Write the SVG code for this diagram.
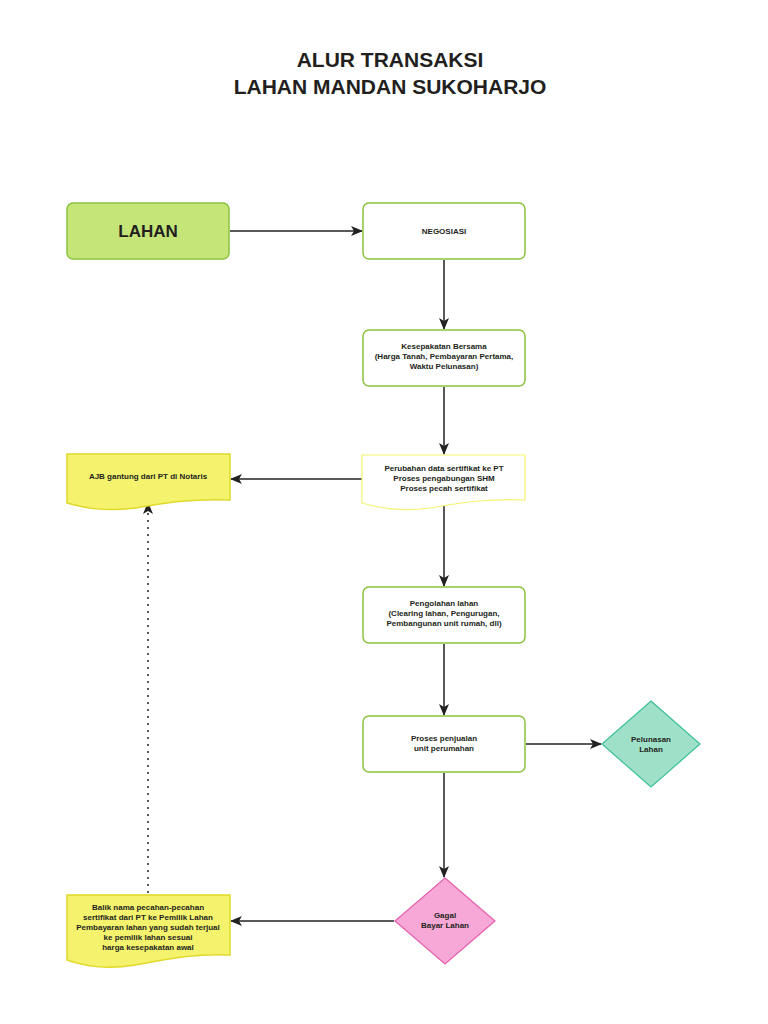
<svg xmlns="http://www.w3.org/2000/svg" width="768" height="1024" viewBox="0 0 768 1024">
<defs>
<marker id="ah" markerWidth="12" markerHeight="10" refX="11" refY="5" orient="auto" markerUnits="userSpaceOnUse"><path d="M0,0 L12,5 L0,10 L3,5 Z" fill="#222"/></marker>
</defs>
<style>
text{font-family:"Liberation Sans",Arial,sans-serif;font-weight:bold;fill:#231f20;text-anchor:middle}
.t{font-size:8px}
.box{fill:#fff;stroke:#8ac43f;stroke-width:1.5}
.doc{fill:#f5f36e;stroke:#e0d92a;stroke-width:1.5}
.line{stroke:#222;stroke-width:1.5;fill:none}
</style>
<rect width="768" height="1024" fill="#fff"/>
<text x="390" y="67" font-size="21">ALUR TRANSAKSI</text>
<text x="390" y="94" font-size="21">LAHAN MANDAN  SUKOHARJO</text>
<g id="connectors">
<path class="line" d="M230,231 H362" marker-end="url(#ah)"/>
<path class="line" d="M444,260 V329" marker-end="url(#ah)"/>
<path class="line" d="M444,387 V454" marker-end="url(#ah)"/>
<path class="line" d="M362,479 H231" marker-end="url(#ah)"/>
<path class="line" d="M444,506 V586" marker-end="url(#ah)"/>
<path class="line" d="M444,644 V715" marker-end="url(#ah)"/>
<path class="line" d="M526,744 H601" marker-end="url(#ah)"/>
<path class="line" d="M444,773 V877" marker-end="url(#ah)"/>
<path class="line" d="M394,921 H231" marker-end="url(#ah)"/>
<path class="line" d="M148,893 V503" stroke-dasharray="2,5" marker-end="url(#ah)"/>
</g>
<g id="lahan"><rect x="67" y="203" width="162" height="56" rx="6" fill="#c5e579" stroke="#8ac43f" stroke-width="1.5"/><text x="148" y="237" font-size="17" font-weight="normal">LAHAN</text></g>
<g id="negosiasi"><rect class="box" x="363" y="203" width="162" height="56" rx="6"/><text class="t" x="444" y="234">NEGOSIASI</text></g>
<g id="kesepakatan"><rect class="box" x="363" y="330" width="162" height="56" rx="6"/><text class="t" x="444" y="349">Kesepakatan Bersama</text><text class="t" x="444" y="359">(Harga Tanah, Pembayaran Pertama,</text><text class="t" x="444" y="369">Waktu Pelunasan)</text></g>
<g id="perubahan"><path d="M362,455 H525 V500 C480,498 450,505 430,508 C400,512 380,508 362,503 Z" fill="#fff" stroke="#f5f36e" stroke-width="1.2"/><text class="t" x="444" y="471">Perubahan data sertifikat ke PT</text><text class="t" x="444" y="481">Proses pengabungan SHM</text><text class="t" x="444" y="491">Proses pecah sertifikat</text></g>
<g id="ajb"><path class="doc" d="M67,454 H230 V500 C185,498 155,505 135,508 C105,512 85,508 67,503 Z"/><text class="t" x="148" y="479">AJB gantung dari PT di Notaris</text></g>
<g id="pengolahan"><rect class="box" x="363" y="587" width="162" height="56" rx="6"/><text class="t" x="444" y="606">Pengolahan lahan</text><text class="t" x="444" y="616">(Clearing lahan, Pengurugan,</text><text class="t" x="444" y="626">Pembangunan unit rumah, dll)</text></g>
<g id="penjualan"><rect class="box" x="363" y="716" width="162" height="56" rx="6"/><text class="t" x="444" y="741">Proses penjualan</text><text class="t" x="444" y="751">unit perumahan</text></g>
<g id="pelunasan"><path d="M651,701 L700,744 L651,787 L602,744 Z" fill="#9fe0c8" stroke="#3cbf9a" stroke-width="1.2"/><text class="t" x="651" y="742">Pelunasan</text><text class="t" x="651" y="752">Lahan</text></g>
<g id="gagal"><path d="M445,878 L495,921 L445,964 L395,921 Z" fill="#f7a8d6" stroke="#e65fac" stroke-width="1.2"/><text class="t" x="445" y="918">Gagal</text><text class="t" x="445" y="928">Bayar Lahan</text></g>
<g id="balik"><path class="doc" d="M67,895 H230 V955 C185,953 155,962 135,965 C105,970 85,966 67,960 Z"/><text class="t" x="148" y="910">Balik nama pecahan-pecahan</text><text class="t" x="148" y="920">sertifikat dari PT ke Pemilik Lahan</text><text class="t" x="148" y="930">Pembayaran lahan yang sudah terjual</text><text class="t" x="148" y="940">ke pemilik lahan sesuai</text><text class="t" x="148" y="950">harga kesepakatan awal</text></g>
</svg>
